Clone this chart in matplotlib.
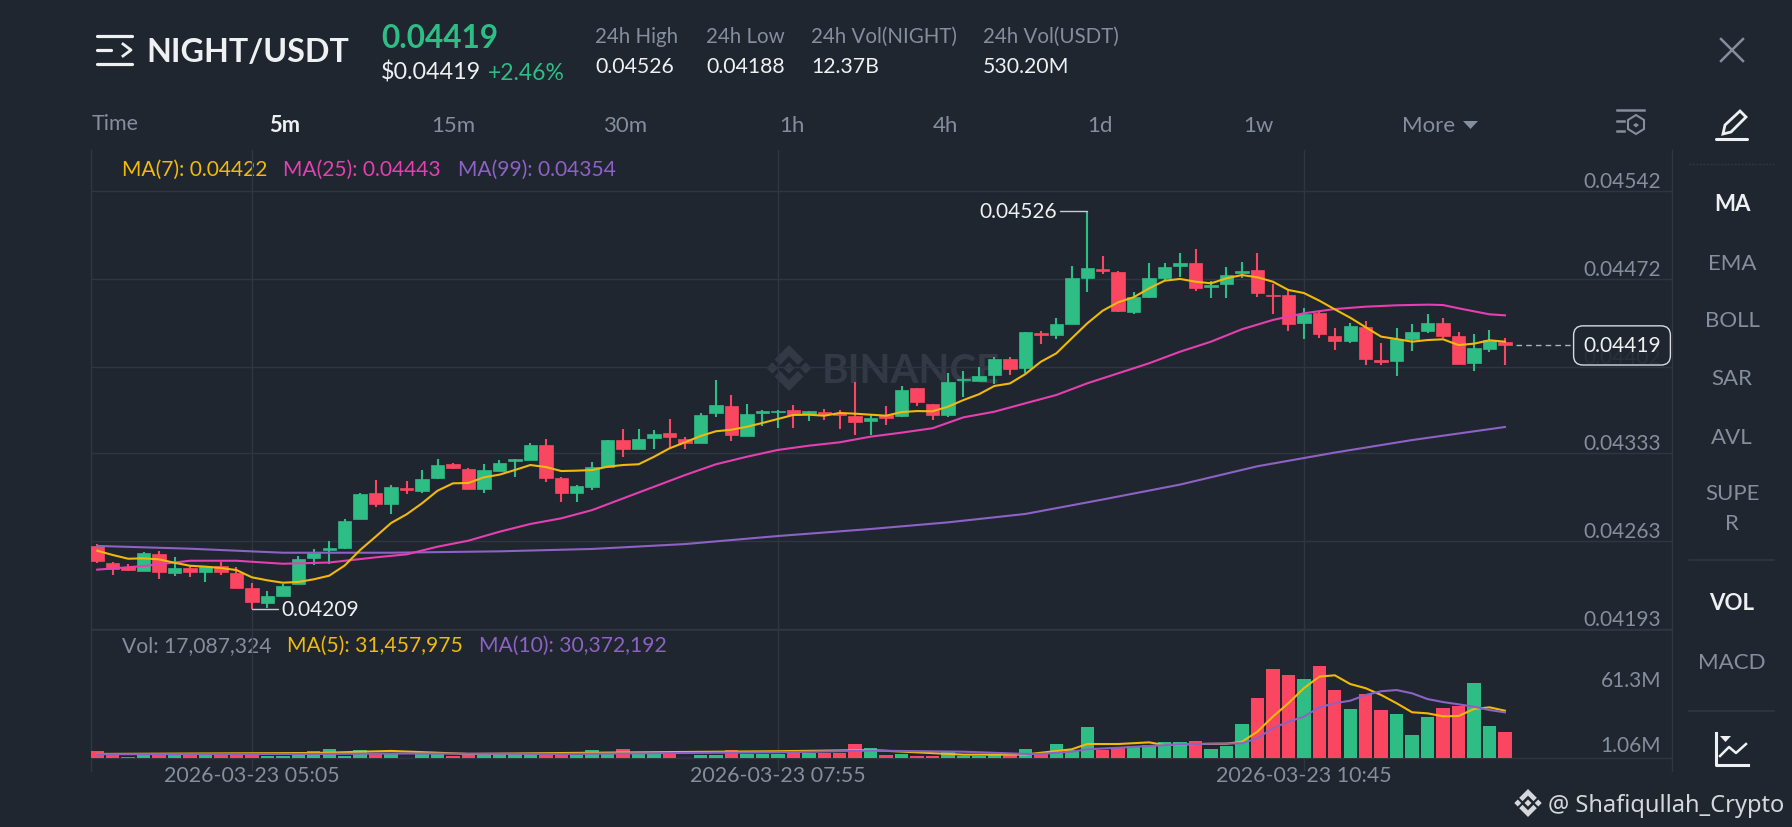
"""NIGHT/USDT 5m candlestick screen with volume pane."""

import matplotlib

matplotlib.use("Agg")
import matplotlib.pyplot as plt
import numpy as np
from matplotlib.patches import Polygon
from matplotlib.transforms import blended_transform_factory

plt.rcParams["font.family"] = ["Lato", "DejaVu Sans"]

BG = "#1f2630"
GRID = "#2f3641"
GREY = "#848e9c"
WHITE = "#eef0f2"
UP = "#2ebd85"
DOWN = "#fb4661"
YELLOW = "#f0b90b"
PINK = "#e63fb0"
PURPLE = "#8e62c4"
WATERMARK = "#333a45"

open_prices = [
    0.042592, 0.042454, 0.042422, 0.042395, 0.042525, 0.042374, 0.042414, 0.042387, 0.042432, 0.042374,
    0.042254, 0.042137, 0.042195, 0.042289, 0.042496, 0.042557, 0.042578, 0.042809, 0.043014, 0.042926,
    0.043056, 0.043027, 0.043136, 0.043245, 0.043205, 0.043048, 0.043187, 0.043271, 0.043279, 0.043396,
    0.043136, 0.043016, 0.043064, 0.043224, 0.043436, 0.043367, 0.043455, 0.043495, 0.043447, 0.043415,
    0.043649, 0.043705, 0.043468, 0.043649, 0.043659, 0.043675, 0.043641, 0.043657, 0.043649, 0.043628,
    0.043590, 0.043636, 0.043628, 0.043849, 0.043725, 0.043638, 0.043912, 0.043904, 0.043957, 0.044080,
    0.044008, 0.044287, 0.044271, 0.044358, 0.044727, 0.044797, 0.044778, 0.044459, 0.044576, 0.044727,
    0.044821, 0.044845, 0.044658, 0.044677, 0.044770, 0.044789, 0.044594, 0.044594, 0.044366, 0.044446,
    0.044265, 0.044228, 0.044335, 0.044074, 0.044068, 0.044239, 0.044307, 0.044366, 0.044265, 0.044048,
    0.044159, 0.044215,
]
close_prices = [
    0.042470, 0.042411, 0.042400, 0.042538, 0.042387, 0.042416, 0.042387, 0.042430, 0.042387, 0.042257,
    0.042148, 0.042193, 0.042275, 0.042486, 0.042532, 0.042573, 0.042793, 0.043006, 0.042926, 0.043064,
    0.043035, 0.043123, 0.043235, 0.043216, 0.043048, 0.043195, 0.043255, 0.043282, 0.043394, 0.043136,
    0.043016, 0.043067, 0.043224, 0.043436, 0.043367, 0.043444, 0.043487, 0.043458, 0.043410, 0.043636,
    0.043715, 0.043479, 0.043646, 0.043665, 0.043670, 0.043636, 0.043665, 0.043644, 0.043633, 0.043577,
    0.043612, 0.043614, 0.043835, 0.043739, 0.043638, 0.043899, 0.043923, 0.043949, 0.044080, 0.044000,
    0.044295, 0.044273, 0.044363, 0.044727, 0.044805, 0.044783, 0.044467, 0.044576, 0.044725, 0.044815,
    0.044845, 0.044648, 0.044672, 0.044754, 0.044781, 0.044608, 0.044584, 0.044358, 0.044441, 0.044279,
    0.044228, 0.044345, 0.044080, 0.044058, 0.044239, 0.044295, 0.044366, 0.044265, 0.044040, 0.044167,
    0.044231, 0.044190,
]
high_prices = [
    0.042607, 0.042464, 0.042446, 0.042545, 0.042554, 0.042506, 0.042440, 0.042430, 0.042464, 0.042422,
    0.042294, 0.042233, 0.042289, 0.042514, 0.042565, 0.042634, 0.042807, 0.043016, 0.043115, 0.043075,
    0.043107, 0.043195, 0.043287, 0.043255, 0.043216, 0.043245, 0.043277, 0.043287, 0.043415, 0.043447,
    0.043140, 0.043075, 0.043263, 0.043440, 0.043524, 0.043524, 0.043516, 0.043604, 0.043458, 0.043649,
    0.043915, 0.043795, 0.043723, 0.043675, 0.043675, 0.043715, 0.043670, 0.043686, 0.043675, 0.043896,
    0.043644, 0.043707, 0.043867, 0.043851, 0.043727, 0.043968, 0.043986, 0.044016, 0.044098, 0.044095,
    0.044297, 0.044307, 0.044406, 0.044825, 0.045260, 0.044905, 0.044786, 0.044613, 0.044845, 0.044845,
    0.044927, 0.044956, 0.044704, 0.044818, 0.044857, 0.044927, 0.044677, 0.044632, 0.044486, 0.044454,
    0.044327, 0.044366, 0.044387, 0.044207, 0.044327, 0.044358, 0.044438, 0.044406, 0.044297, 0.044279,
    0.044315, 0.044247,
]
low_prices = [
    0.042458, 0.042358, 0.042396, 0.042390, 0.042326, 0.042355, 0.042344, 0.042307, 0.042358, 0.042257,
    0.042090, 0.042095, 0.042195, 0.042289, 0.042438, 0.042448, 0.042565, 0.042809, 0.042905, 0.042847,
    0.043006, 0.043016, 0.043126, 0.043205, 0.043048, 0.043016, 0.043187, 0.043144, 0.043279, 0.043104,
    0.042945, 0.042945, 0.043038, 0.043224, 0.043298, 0.043367, 0.043367, 0.043367, 0.043367, 0.043410,
    0.043617, 0.043428, 0.043468, 0.043548, 0.043530, 0.043534, 0.043588, 0.043598, 0.043526, 0.043479,
    0.043474, 0.043556, 0.043622, 0.043707, 0.043596, 0.043622, 0.043779, 0.043904, 0.043883, 0.043957,
    0.043968, 0.044199, 0.044239, 0.044358, 0.044618, 0.044759, 0.044456, 0.044438, 0.044568, 0.044704,
    0.044733, 0.044626, 0.044568, 0.044568, 0.044727, 0.044576, 0.044438, 0.044307, 0.044239, 0.044247,
    0.044154, 0.044207, 0.044034, 0.044034, 0.043949, 0.044146, 0.044287, 0.044247, 0.044040, 0.043986,
    0.044138, 0.044034,
]
volumes_m = [
    4.9, 2.7, 0.9, 1.8, 2.7, 3.1, 1.8, 2.0, 2.2, 2.2,
    1.8, 1.3, 1.3, 4.2, 4.9, 5.8, 1.3, 5.5, 3.1, 3.1,
    1.06, 3.5, 3.5, 1.3, 2.7, 2.5, 2.5, 2.5, 2.5, 1.8,
    2.0, 2.2, 5.1, 2.5, 6.0, 2.9, 2.9, 2.9, 1.06, 2.0,
    2.0, 5.5, 2.7, 2.9, 2.9, 3.1, 3.1, 3.1, 3.5, 9.1,
    6.5, 2.2, 2.7, 1.3, 1.5, 4.7, 1.5, 1.5, 1.8, 2.0,
    6.2, 3.1, 9.1, 5.0, 20.8, 5.5, 6.5, 8.0, 8.8, 10.8,
    10.4, 11.3, 6.0, 8.2, 22.4, 40.1, 59.4, 55.0, 52.7, 61.3,
    45.2, 32.6, 42.4, 31.9, 29.3, 15.5, 27.3, 33.3, 34.8, 50.1,
    21.3, 17.09,
]
# bars that show up almost black in the app
faint_volume_bars = [20, 38]

ma7 = [
    0.042554, 0.042520, 0.042490, 0.042493, 0.042485, 0.042458, 0.042434, 0.042427, 0.042416, 0.042400,
    0.042342, 0.042318, 0.042299, 0.042305, 0.042326, 0.042355, 0.042436, 0.042560, 0.042666, 0.042775,
    0.042844, 0.042932, 0.043032, 0.043091, 0.043094, 0.043139, 0.043160, 0.043197, 0.043237, 0.043221,
    0.043189, 0.043192, 0.043197, 0.043224, 0.043237, 0.043243, 0.043303, 0.043370, 0.043418, 0.043468,
    0.043506, 0.043518, 0.043542, 0.043572, 0.043604, 0.043636, 0.043638, 0.043630, 0.043652, 0.043646,
    0.043638, 0.043630, 0.043659, 0.043667, 0.043665, 0.043702, 0.043755, 0.043801, 0.043867, 0.043887,
    0.043962, 0.044060, 0.044127, 0.044247, 0.044366, 0.044467, 0.044534, 0.044574, 0.044645, 0.044706,
    0.044720, 0.044698, 0.044685, 0.044725, 0.044751, 0.044733, 0.044698, 0.044632, 0.044608, 0.044547,
    0.044478, 0.044411, 0.044335, 0.044260, 0.044241, 0.044220, 0.044233, 0.044239, 0.044193, 0.044204,
    0.044231, 0.044220,
]
ma25_idx = [
    0, 3, 6, 9, 12, 15, 18, 20, 22, 24, 26, 28, 30, 32, 36, 38, 40, 42, 44, 46, 48, 50, 52, 54, 56, 58,
    60, 62, 64, 66, 68, 70, 72, 74, 76, 78, 80, 82, 84, 86, 87, 88, 90, 91,
]
ma25 = [
    0.042403, 0.042432, 0.042474, 0.042474, 0.042450, 0.042460, 0.042501, 0.042525, 0.042586, 0.042634,
    0.042705, 0.042767, 0.042812, 0.042878, 0.043064, 0.043157, 0.043243, 0.043303, 0.043357, 0.043391,
    0.043418, 0.043463, 0.043495, 0.043530, 0.043617, 0.043662, 0.043729, 0.043795, 0.043888, 0.043968,
    0.044048, 0.044140, 0.044220, 0.044319, 0.044393, 0.044446, 0.044480, 0.044499, 0.044510, 0.044515,
    0.044512, 0.044486, 0.044438, 0.044430,
]
ma99_idx = [0, 6, 12, 19, 26, 32, 38, 44, 50, 55, 60, 65, 70, 75, 80, 85, 91]
ma99 = [
    0.042592, 0.042570, 0.042538, 0.042538, 0.042549, 0.042568, 0.042607, 0.042671, 0.042727, 0.042780,
    0.042847, 0.042962, 0.043081, 0.043227, 0.043336, 0.043436, 0.043540,
]

vol_ma5_idx = [
    0, 14, 19, 24, 34, 44, 50, 56, 60, 61, 63, 64, 66, 68, 69, 71, 73, 74, 75, 76, 77, 78, 79, 80, 81,
    82, 83, 84, 85, 86, 87, 88, 89, 90, 91,
]
vol_ma5 = [
    2.7, 3.3, 4.7, 2.7, 3.7, 4.5, 5.3, 2.2, 2.3, 3.5, 5.8, 9.3, 9.3, 10.4, 8.6, 9.3, 9.5, 10.8, 17.5,
    27.5, 36.4, 46.4, 54.1, 55.0, 49.2, 46.4, 41.9, 36.4, 30.4, 29.7, 27.7, 27.9, 32.6, 33.7, 31.46,
]
vol_ma10_idx = [
    0, 14, 20, 30, 44, 50, 56, 60, 61, 63, 64, 66, 68, 70, 72, 74, 75, 76, 77, 78, 79, 80, 81, 82, 83,
    84, 85, 86, 87, 88, 89, 90, 91,
]
vol_ma10 = [
    2.5, 2.7, 3.0, 2.7, 3.8, 4.9, 4.2, 2.7, 2.7, 4.2, 5.8, 6.8, 8.0, 9.1, 9.5, 9.8, 13.1, 19.8, 24.1,
    27.5, 33.7, 36.4, 38.1, 41.9, 44.4, 45.2, 43.0, 39.2, 37.2, 35.7, 34.1, 31.9, 30.37,
]

price_ticks = [0.04542, 0.04472, 0.04402, 0.04333, 0.04263, 0.04193]
date_ticks = [10, 44, 78]
date_labels = ["2026-03-23 05:05", "2026-03-23 07:55", "2026-03-23 10:45"]
volume_ticks = [61.3, 1.06]
volume_labels = ["61.3M", "1.06M"]
indicators = ["MA", "EMA", "BOLL", "SAR", "AVL", "SUPE", "R", "VOL", "MACD"]
intervals = ["5m", "15m", "30m", "1h", "4h", "1d", "1w"]

W, H = 1792, 828
opens = np.array(open_prices)
closes = np.array(close_prices)
highs = np.array(high_prices)
lows = np.array(low_prices)
xs = np.arange(len(opens))
rising = closes >= opens
candle_colors = np.where(rising, UP, DOWN)


def pixel_axes(fig, left, top, right, bottom, **kwargs):
    """Axes placed with screen pixels, y counted from the top."""
    rect = [left / W, 1 - bottom / H, (right - left) / W, (bottom - top) / H]
    return fig.add_axes(rect, **kwargs)


def binance_logo(ax, cx, cy, r, color):
    """Four-way diamond mark, y axis pointing down."""
    for dx, dy in [(0, 0), (-0.73, 0), (0.73, 0)]:
        diamond = [(0, -0.25), (0.25, 0), (0, 0.25), (-0.25, 0)]
        ax.add_patch(Polygon([(cx + (dx + a) * r, cy + (dy + b) * r) for a, b in diamond], fc=color, ec="none"))
    chevron = [(0, -1), (0.63, -0.37), (0.39, -0.13), (0, -0.52), (-0.39, -0.13), (-0.63, -0.37)]
    for sign in (1, -1):
        ax.add_patch(Polygon([(cx + a * r, cy + sign * b * r) for a, b in chevron], fc=color, ec="none"))


def style_pane(ax):
    ax.set_facecolor("none")
    ax.set_xlim(-0.4, 101.8)
    ax.set_xticks(date_ticks)
    ax.grid(axis="x", color=GRID, linewidth=1)
    ax.set_axisbelow(True)
    for side in ("top", "bottom"):
        ax.spines[side].set_visible(False)
    for side in ("left", "right"):
        ax.spines[side].set_color(GRID)
        ax.spines[side].set_linewidth(1)
    ax.tick_params(length=0)


fig = plt.figure(figsize=(W / 100, H / 100), dpi=100, facecolor=BG)

# screen furniture, in pixels
ui = fig.add_axes([0, 0, 1, 1], zorder=0)
ui.set_xlim(0, W)
ui.set_ylim(H, 0)
ui.axis("off")


def label(x, y, text, color=GREY, size=14.5, weight="normal", ha="left", **kwargs):
    ui.text(x, y, text, color=color, fontsize=size, fontweight=weight, ha=ha, va="center", **kwargs)


# hamburger icon
ui.plot([97, 132], [37, 37], color=WHITE, lw=2.3, solid_capstyle="round")
ui.plot([97, 132], [65, 65], color=WHITE, lw=2.3, solid_capstyle="round")
ui.plot([97, 111], [51, 51], color=WHITE, lw=2.3, solid_capstyle="round")
ui.plot([123, 131, 123], [45, 51, 57], color=WHITE, lw=2.0)

label(146, 53, "NIGHT/USDT", WHITE, 23.2, "bold")
label(381, 38, "0.04419", UP, 22.8, "bold")
label(381, 73, "$0.04419", WHITE, 16.8)
label(488, 73, "+2.46%", UP, 16.5)

for x, head, value in [
    (595, "24h High", "0.04526"),
    (706, "24h Low", "0.04188"),
    (811, "24h Vol(NIGHT)", "12.37B"),
    (983, "24h Vol(USDT)", "530.20M"),
]:
    label(x, 37, head, GREY, 14.8)
    label(x, 67, value, WHITE, 15.3)

label(92, 124, "Time", GREY, 15.5)
for x, name in zip([285, 453, 625, 792, 945, 1100, 1258], intervals):
    if name == "5m":
        label(x, 126, name, WHITE, 15.8, "bold", ha="center")
    else:
        label(x, 126, name, GREY, 16, ha="center")
label(1402, 126, "More", GREY, 16)
ui.add_patch(Polygon([(1463, 122), (1478, 122), (1470.5, 130)], fc=GREY, ec="none"))

# depth settings icon
ui.plot([1617, 1644], [111, 111], color=GREY, lw=1.8)
ui.plot([1617, 1624], [122, 122], color=GREY, lw=1.8)
ui.plot([1617, 1624], [132, 132], color=GREY, lw=1.8)
ui.add_patch(Polygon([(1636, 116), (1644, 121), (1644, 130), (1636, 135), (1628, 130), (1628, 121)],
                     fc="none", ec=GREY, lw=1.5))
ui.add_patch(Polygon([(1636, 124), (1639, 126), (1636, 128.5), (1633, 126)], fc=GREY, ec="none"))

# close cross
ui.plot([1721, 1743], [40, 62], color=GREY, lw=1.8)
ui.plot([1721, 1743], [62, 40], color=GREY, lw=1.8)

# pencil
ui.plot([1716, 1747], [140, 140], color=WHITE, lw=2.2, solid_capstyle="round")
ui.add_patch(Polygon([(1723, 135), (1725, 126), (1740, 112), (1746, 118), (1731, 133)],
                     fc="none", ec=WHITE, lw=2))
ui.plot([1689, 1774], [165, 165], color=GRID, lw=1, ls=(0, (1.5, 1)))

# indicator column
indicator_rows = [205, 264, 321, 379, 438, 494, 524, 604, 663]
for name, y in zip(indicators, indicator_rows):
    if name in ("MA", "VOL"):
        label(1732, y, name, WHITE, 16, "bold", ha="center")
    else:
        label(1732, y, name, GREY, 16, ha="center")
ui.plot([1689, 1774], [561, 561], color=GRID, lw=1.2)
ui.plot([1689, 1774], [712, 712], color=GRID, lw=1.2)

# chart-type icon
ui.plot([1716, 1716, 1748], [734, 766, 766], color=WHITE, lw=2.2)
ui.plot([1720, 1729, 1736, 1746], [757, 748, 754, 745], color=WHITE, lw=1.8)
ui.add_patch(Polygon([(1720, 737), (1731, 737), (1725.5, 743)], fc=WHITE, ec="none"))

# footer handle
binance_logo(ui, 1528, 804, 14, "#d5d7db")
ui.text(1548, 806, "@ Shafiqullah_Crypto", color="#d5d7db", fontsize=17, va="center",
        family=["Noto Sans", "DejaVu Sans"])

# watermark sits behind the candles
binance_logo(ui, 789, 369, 23, WATERMARK)
ui.text(822, 372, "BINANCE", color=WATERMARK, fontsize=29, fontweight="bold", va="center")

# legends
for x, text, color in [
    (122, "MA(7): 0.04422", YELLOW),
    (283, "MA(25): 0.04443", PINK),
    (458, "MA(99): 0.04354", PURPLE),
]:
    label(x, 170, text, color, 15.1)
for x, text, color in [
    (122, "Vol: 17,087,324", GREY),
    (287, "MA(5): 31,457,975", YELLOW),
    (479, "MA(10): 30,372,192", PURPLE),
]:
    label(x, 646, text, color, 15.2)

# price pane
price_ax = pixel_axes(fig, 91, 151, 1672, 630, zorder=1)
style_pane(price_ax)
price_ax.set_ylim(0.04193, 0.04193 + 479 * 7.97e-6)
price_ax.set_yticks(price_ticks)
price_ax.set_yticklabels([])
price_ax.set_xticklabels([])
price_ax.grid(axis="y", color=GRID, linewidth=1)

right_edge = blended_transform_factory(price_ax.transAxes, price_ax.transData)
for tick in price_ticks:
    price_ax.annotate(f"{tick:.5f}", xy=(1, tick), xycoords=right_edge, xytext=(-11, 10),
                      textcoords="offset pixels", ha="right", va="center", color=GREY, fontsize=15)

price_ax.vlines(xs, lows, highs, colors=candle_colors, linewidth=1.5, zorder=3)
price_ax.bar(xs, closes - opens, bottom=opens, width=0.87, color=candle_colors,
             edgecolor=candle_colors, linewidth=0.5, zorder=3)

price_ax.plot(ma99_idx, ma99, color=PURPLE, lw=1.5, zorder=4)
price_ax.plot(ma25_idx, ma25, color=PINK, lw=1.5, zorder=4)
price_ax.plot(xs, ma7, color=YELLOW, lw=1.5, zorder=4)

# extreme labels
top = int(np.argmax(highs))
bottom = int(np.argmin(lows))
leader = dict(arrowstyle="-", color="#c8ccd2", lw=1, shrinkA=0, shrinkB=0, connectionstyle="angle,angleA=0,angleB=90")
price_ax.annotate(f"{highs[top]:.5f}", xy=(top, highs[top]), xytext=(-30, 0), textcoords="offset pixels",
                  ha="right", va="center", color=WHITE, fontsize=15, arrowprops=leader, zorder=5)
price_ax.annotate(f"{lows[bottom]:.5f}", xy=(bottom, lows[bottom]), xytext=(29, 0), textcoords="offset pixels",
                  ha="left", va="center", color=WHITE, fontsize=15, arrowprops=leader, zorder=5)

# last price tag
price_ax.axhline(closes[-1], xmin=(1516 - 91) / 1581, xmax=(1573 - 91) / 1581, color="#aeb3ba", lw=1,
                 ls=(0, (4, 3)), zorder=2)
price_ax.text((1622 - 91) / 1581, closes[-1], f"{closes[-1]:.5f}", transform=right_edge, ha="center",
              va="center", color=WHITE, fontsize=15, zorder=6,
              bbox=dict(boxstyle="round,pad=0.46,rounding_size=0.45", fc=(0.122, 0.149, 0.188, 0.9),
                        ec="#d8dadd", lw=1))

# volume pane
vol_ax = pixel_axes(fig, 91, 630, 1672, 772, zorder=1)
style_pane(vol_ax)
vol_ax.set_ylim(-13 * 0.665, 129 * 0.665)
vol_ax.set_yticks([])
vol_ax.set_xticklabels(date_labels, color=GREY, fontsize=15.4)
vol_ax.tick_params(axis="x", pad=-4)
vol_ax.axhline(0, color=GRID, lw=1, zorder=1)
# the price pane's lowest grid line sits on this pane's top edge
vol_ax.axhline(129 * 0.665, color=GRID, lw=2, zorder=1)

bar_colors = candle_colors.copy().astype(object)
for i in faint_volume_bars:
    bar_colors[i] = "#262b36"
vol_ax.bar(xs, volumes_m, width=0.87, color=list(bar_colors), zorder=3)
vol_ax.plot(vol_ma5_idx, vol_ma5, color=YELLOW, lw=1.5, zorder=4)
vol_ax.plot(vol_ma10_idx, vol_ma10, color=PURPLE, lw=1.5, zorder=4)

vol_edge = blended_transform_factory(vol_ax.transAxes, vol_ax.transData)
for tick, text, lift in zip(volume_ticks, volume_labels, [-14, 11]):
    vol_ax.annotate(text, xy=(1, tick), xycoords=vol_edge, xytext=(-11, lift), textcoords="offset pixels",
                    ha="right", va="center", color=GREY, fontsize=15)

fig.savefig("out.png", dpi=100, facecolor=BG)
